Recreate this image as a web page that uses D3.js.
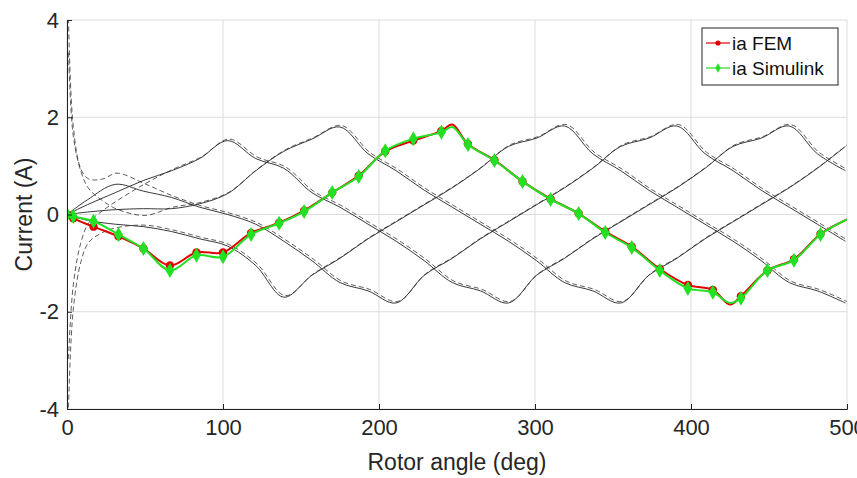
<!DOCTYPE html>
<html>
<head>
<meta charset="utf-8">
<script src="https://cdn.jsdelivr.net/npm/d3@7"></script>
<style>
  body { margin: 0; background: #fff; }
  text { font-family: "Liberation Sans", Arial, sans-serif; }
</style>
</head>
<body>
<script>
// ia curves (FEM / Simulink)
var iaAngle = [0, 4, 17, 33, 49, 66, 83, 100, 118, 136, 152, 170, 187, 204, 222, 240, 247, 257, 274, 292, 310, 328, 345, 362, 380, 398, 414, 425, 432, 449, 466, 483, 500];
var iaFem = [0, -0.08, -0.25, -0.45, -0.7, -1.05, -0.78, -0.78, -0.38, -0.17, 0.08, 0.45, 0.8, 1.3, 1.52, 1.72, 1.85, 1.45, 1.12, 0.68, 0.32, 0.02, -0.35, -0.66, -1.12, -1.45, -1.55, -1.85, -1.68, -1.15, -0.92, -0.4, -0.1];
var iaSim = [0, -0.04, -0.14, -0.41, -0.7, -1.15, -0.84, -0.87, -0.41, -0.18, 0.06, 0.45, 0.78, 1.31, 1.56, 1.69, 1.8, 1.44, 1.11, 0.68, 0.31, 0.02, -0.37, -0.68, -1.15, -1.52, -1.6, -1.82, -1.72, -1.15, -0.94, -0.41, -0.1];
var markerAngle = [0, 4, 17, 33, 49, 66, 83, 100, 118, 136, 152, 170, 187, 204, 222, 240, 257, 274, 292, 310, 328, 345, 362, 380, 398, 414, 432, 449, 466, 483];

// other phases (black)
var phAngle = [0, 13, 31, 49, 67, 85, 103, 121, 139, 157, 175, 193, 211, 229, 247, 265, 283, 301, 319, 337, 355, 373, 391, 409, 427, 445, 463, 481, 499];
var phB = [0, 0.05, 0.1, 0.12, 0.12, 0.22, 0.43, 0.9, 1.3, 1.55, 1.8, 1.25, 0.9, 0.5, 0.15, -0.2, -0.55, -0.95, -1.4, -1.57, -1.82, -1.25, -0.9, -0.5, -0.15, 0.2, 0.55, 0.95, 1.4];
var phC = [0, 0.2, 0.45, 0.7, 0.9, 1.15, 1.52, 1.15, 0.95, 0.45, 0.15, -0.2, -0.55, -0.95, -1.4, -1.57, -1.82, -1.25, -0.9, -0.5, -0.15, 0.2, 0.55, 0.95, 1.4, 1.57, 1.82, 1.25, 0.9];
var phD = [0, 0.3, 0.62, 0.48, 0.35, 0.15, 0.0, -0.2, -0.55, -0.95, -1.4, -1.57, -1.82, -1.25, -0.9, -0.5, -0.15, 0.2, 0.55, 0.95, 1.4, 1.57, 1.82, 1.25, 0.9, 0.5, 0.15, -0.2, -0.55];
var phE = [0, -0.12, -0.2, -0.25, -0.35, -0.5, -0.65, -1.05, -1.7, -1.25, -0.9, -0.5, -0.15, 0.2, 0.55, 0.95, 1.4, 1.57, 1.82, 1.25, 0.9, 0.5, 0.15, -0.2, -0.55, -0.95, -1.4, -1.57, -1.82];

// start-up transients of the dashed (Simulink) phases, then they follow the solid ones
var dashAngle = [0, 3, 8, 13, 22, 31, 49];
var dashB = [3.3, 1.6, 0.85, 0.5, 0.25, 0.08, -0.05];
var dashC = [-3, -1.5, -0.6, -0.2, 0.05, 0.25, 0.6];
var dashD = [4, 1.8, 0.9, 0.7, 0.7, 0.82, 0.6];
var dashE = [-4, -2, -1.0, -0.6, -0.4, -0.3, -0.25];

var xTicks = [0, 100, 200, 300, 400, 500];
var yTicks = [-4, -2, 0, 2, 4];

var W = 857, H = 478;
var m = { left: 67, right: 10, top: 20, bottom: 69 };

var svg = d3.select("body").append("svg").attr("width", W).attr("height", H);

var x = d3.scaleLinear().domain([0, 500]).range([m.left, W - m.right]);
var y = d3.scaleLinear().domain([-4, 4]).range([H - m.bottom, m.top]);

svg.append("defs").append("clipPath").attr("id", "clip")
  .append("rect").attr("x", m.left).attr("y", m.top)
  .attr("width", x(500) - m.left).attr("height", y(-4) - m.top);

// grid
svg.append("g").selectAll("line").data(xTicks).enter().append("line")
  .attr("x1", d => x(d)).attr("x2", d => x(d))
  .attr("y1", y(-4)).attr("y2", y(4))
  .attr("stroke", "#dcdcdc").attr("stroke-width", 1);
svg.append("g").selectAll("line").data(yTicks).enter().append("line")
  .attr("x1", x(0)).attr("x2", x(500))
  .attr("y1", d => y(d)).attr("y2", d => y(d))
  .attr("stroke", "#dcdcdc").attr("stroke-width", 1);

var line = d3.line().x(d => x(d[0])).y(d => y(d[1])).curve(d3.curveCatmullRom);
var plot = svg.append("g").attr("clip-path", "url(#clip)");

function pairs(a, v) { return a.map((d, i) => [d, v[i]]); }
function dashPairs(v, ph) {
  return pairs(dashAngle, v).concat(pairs(phAngle, ph).filter(d => d[0] > 60));
}

[phB, phC, phD, phE].forEach(function(ph) {
  plot.append("path").attr("d", line(pairs(phAngle, ph)))
    .attr("fill", "none").attr("stroke", "#222").attr("stroke-width", 0.9);
});
[[dashB, phB], [dashC, phC], [dashD, phD], [dashE, phE]].forEach(function(p) {
  plot.append("path").attr("d", line(dashPairs(p[0], p[1])))
    .attr("fill", "none").attr("stroke", "#333").attr("stroke-width", 0.8)
    .attr("stroke-dasharray", "5,3").attr("transform", "translate(1.5,-1.5)");
});

var fem = pairs(iaAngle, iaFem), sim = pairs(iaAngle, iaSim);
plot.append("path").attr("d", line(fem)).attr("fill", "none").attr("stroke", "#e00000").attr("stroke-width", 2);
plot.append("g").selectAll("circle").data(fem.filter(d => markerAngle.includes(d[0]))).enter()
  .append("circle").attr("cx", d => x(d[0])).attr("cy", d => y(d[1])).attr("r", 4.2).attr("fill", "#e00000");
plot.append("path").attr("d", line(sim)).attr("fill", "none").attr("stroke", "#22e022").attr("stroke-width", 2);
var diamond = d3.symbol().type(d3.symbolDiamond).size(65);
plot.append("g").selectAll("path").data(sim.filter(d => markerAngle.includes(d[0]))).enter()
  .append("path").attr("d", diamond).attr("transform", d => "translate(" + x(d[0]) + "," + y(d[1]) + ")")
  .attr("fill", "#22e022");

// axes
var fmt = d => String(d);
var xAxis = svg.append("g").attr("transform", "translate(0," + y(-4) + ")")
  .call(d3.axisBottom(x).tickValues(xTicks).tickFormat(fmt).tickSize(-5).tickPadding(10));
var yAxis = svg.append("g").attr("transform", "translate(" + x(0) + ",0)")
  .call(d3.axisLeft(y).tickValues(yTicks).tickFormat(fmt).tickSize(-5).tickPadding(8));
[xAxis, yAxis].forEach(function(a) {
  a.select(".domain").attr("stroke", "#222");
  a.selectAll(".tick line").attr("stroke", "#222");
  a.selectAll("text").attr("font-size", 22).attr("fill", "#262626")
    .style("font-family", "'Liberation Sans', Arial, sans-serif");
});

svg.append("text").attr("x", (x(0) + x(500)) / 2).attr("y", 470)
  .attr("text-anchor", "middle").attr("font-size", 23).attr("fill", "#262626").text("Rotor angle (deg)");
svg.append("text").attr("transform", "translate(32," + y(0) + ") rotate(-90)")
  .attr("text-anchor", "middle").attr("font-size", 23).attr("fill", "#262626").text("Current (A)");

// legend
var lg = svg.append("g").attr("transform", "translate(702,28)");
lg.append("rect").attr("width", 136).attr("height", 57).attr("fill", "#fff").attr("stroke", "#222");
var items = [["ia FEM", "#e00000", "c"], ["ia Simulink", "#22e022", "d"]];
items.forEach(function(it, i) {
  var g = lg.append("g").attr("transform", "translate(0," + (15 + i * 25) + ")");
  g.append("line").attr("x1", 4).attr("x2", 28).attr("stroke", it[1]).attr("stroke-width", 1.2);
  if (it[2] === "c") g.append("circle").attr("cx", 16).attr("r", 2.6).attr("fill", it[1]);
  else g.append("path").attr("d", d3.symbol().type(d3.symbolDiamond).size(25)).attr("transform", "translate(16,0)").attr("fill", it[1]);
  g.append("text").attr("x", 30).attr("y", 7).attr("font-size", 19).attr("fill", "#111").text(it[0]);
});
</script>
</body>
</html>
